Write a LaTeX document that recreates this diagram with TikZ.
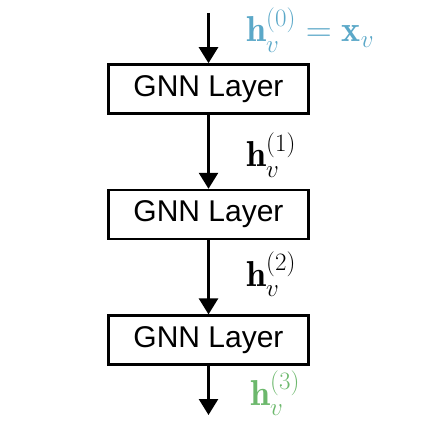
\RequirePackage{fix-cm}
\documentclass[tikz,border=0pt]{standalone}
\usepackage{amsmath}
\usepackage{fontspec}
\setsansfont{Liberation Sans}
\usepackage{xcolor}
\definecolor{hblue}{RGB}{91,168,200}
\definecolor{hgreen}{RGB}{108,184,108}
\usetikzlibrary{positioning,arrows.meta}
\DeclareMathSizes{36}{36}{25}{18}
\newcommand{\hemb}[1]{\mathbf{h}_{\raisebox{-2pt}{$\scriptstyle v$}}^{\raisebox{2pt}{$\scriptstyle (#1)$}}}
\tikzset{>={Triangle[length=16pt,width=19pt]}}
\tikzset{
  layer/.style={draw, line width=2.6pt, minimum width=200pt, minimum height=49pt,
    inner sep=0pt, font=\sffamily\fontsize{30}{32}\selectfont},
  flow/.style={->, line width=2.6pt},
  emb/.style={anchor=base west, inner sep=0pt, font=\fontsize{36}{40}\selectfont}
}

\begin{document}
\begin{tikzpicture}[x=1pt,y=-1pt]
    \useasboundingbox (0,0) rectangle (441,443);
    \node[layer] (L1) at (208.5,89) {GNN Layer};
    \node[layer, below=74pt of L1] (L2) {GNN Layer};
    \node[layer, below=74pt of L2] (L3) {GNN Layer};
    \coordinate (in) at (208.5,13);
    \coordinate (out) at (208.5,415);
    \draw[flow] (in) -- (L1.north);
    \draw[flow] (L1.south) -- (L2.north);
    \draw[flow] (L2.south) -- (L3.north);
    \draw[flow] (L3.south) -- (out);
    \node[emb, text=hblue] (h0) at (246,42) {$\hemb{0} = \mathbf{x}_v$};
    \node[emb] (h1) at (246,167) {$\hemb{1}$};
    \node[emb] (h2) at (246,286) {$\hemb{2}$};
    \node[emb, text=hgreen] (h3) at (250,405) {$\hemb{3}$};
\end{tikzpicture}
\end{document}
